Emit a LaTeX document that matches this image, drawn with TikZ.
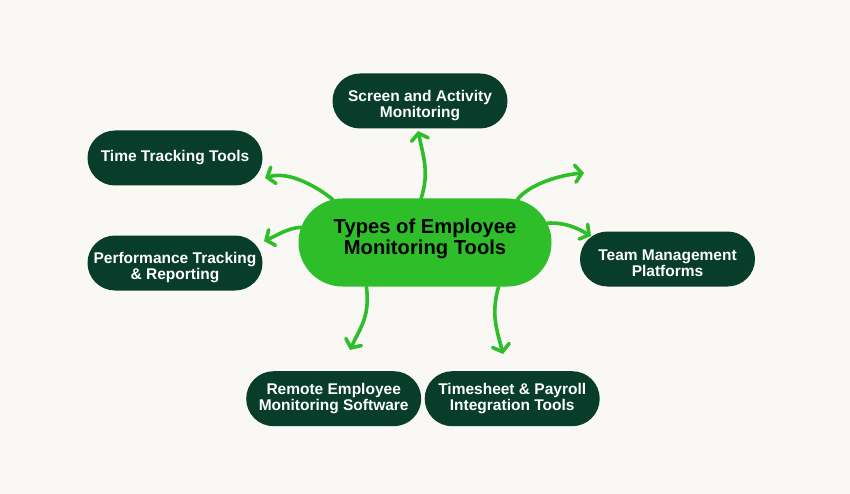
\documentclass[tikz,border=0pt]{standalone}
\usepackage{fontspec}
\setmainfont{Liberation Sans}
\usetikzlibrary{shapes.misc}
\usetikzlibrary{arrows.meta}
\definecolor{bgcol}{HTML}{F9F8F4}
\definecolor{dgreen}{HTML}{073D2A}
\definecolor{lgreen}{HTML}{2EBE2A}
\tikzset{box/.style = {rectangle, rounded corners=27.5pt, fill=dgreen, text=white,
                       font=\bfseries\fontsize{15.5}{16}\selectfont, align=center,
                       minimum width=175, minimum height=55, inner sep=0}}
\tikzset{lowtext/.style = {text height=36pt}}
\tikzset{hub/.style = {rounded rectangle, fill=lgreen, text=black,
                       font=\bfseries\fontsize{20.2}{21}\selectfont, align=center,
                       minimum width=253, minimum height=88, inner sep=0,
                       text depth=12pt}}
\tikzset{arr/.style = {draw=lgreen, line width=3.6pt, line cap=round,
                       -{Straight Barb[length=6.5pt,width=17pt,line cap=round]}}}

\begin{document}
\begin{tikzpicture}[x=1pt,y=-1pt]
      \fill[bgcol] (0,0) rectangle (850,494);
      \node[hub] (hub) at (425,242.5) {Types of Employee\\Monitoring Tools};
      \node[box, lowtext] (scr) at (420,101) {Screen and Activity\\Monitoring};
      \node[box] (time) at (175,158) {Time Tracking Tools};
      \node[box, lowtext] (perf) at (175,263) {Performance Tracking\\\& Reporting};
      \node[box, lowtext] (team) at (667.5,259) {Team Management\\Platforms};
      \node[box] (rem) at (333.7,398.7) {Remote Employee\\Monitoring Software};
      \node[box] (ts) at (512.2,398.7) {Timesheet \& Payroll\\Integration Tools};
      \coordinate (tscr) at (418,131);
      \coordinate (ttime) at (265,178);
      \coordinate (tperf) at (264,241);
      \coordinate (tfree) at (584,173);
      \coordinate (tteam) at (591,236);
      \coordinate (trem) at (350,350);
      \coordinate (tts) at (503,354);
      \draw[arr] (hub.95) .. controls +(8,-25) and +(6,28) .. (tscr);
      \draw[arr] (hub.155) .. controls +(-12,-10) and +(25,-8) .. (ttime);
      \draw[arr] (hub.173) .. controls +(-14,1) and +(14,-6) .. (tperf);
      \draw[arr] (hub.25) .. controls +(12,-15) and +(-25,2) .. (tfree);
      \draw[arr] (hub.9) .. controls +(18,-1) and +(-14,-8) .. (tteam);
      \draw[arr] (hub.217) .. controls +(4,30) and +(10,-22) .. (trem);
      \draw[arr] (hub.329) .. controls +(-8,28) and +(-6,-24) .. (tts);
\end{tikzpicture}
\end{document}
